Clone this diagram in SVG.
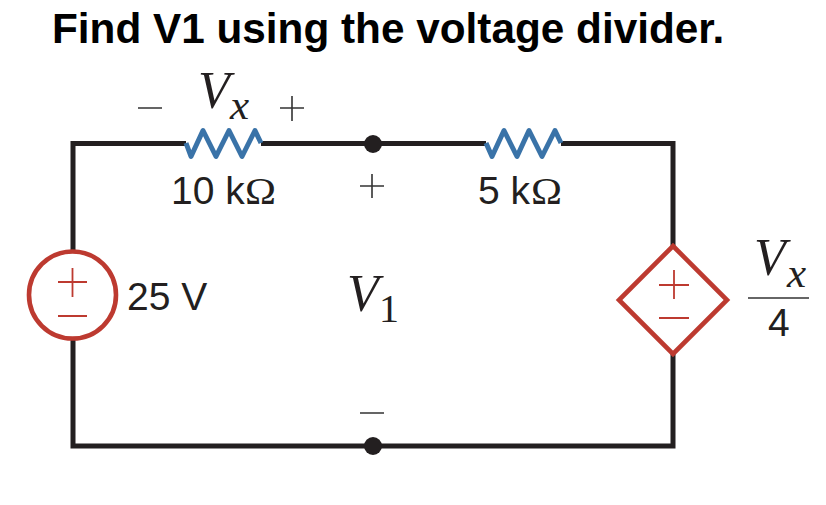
<svg xmlns="http://www.w3.org/2000/svg" width="826" height="505" viewBox="0 0 826 505">
<style>
.wire{fill:none;stroke:#231f20;stroke-width:5}
.res{fill:none;stroke:#3a73a8;stroke-width:5;stroke-linejoin:round}
.red{fill:#fff;stroke:#bd3a30;stroke-width:4.600}
.thin{fill:none;stroke:#333;stroke-width:1.600}
.redthin{fill:none;stroke:#bd3a30;stroke-width:1.800}
.sans{font-family:"Liberation Sans",Arial,sans-serif;font-size:39px;fill:#231f20}
.it{font-family:"Liberation Serif","Times New Roman",serif;font-style:italic;fill:#231f20}
.rom{font-family:"Liberation Serif","Times New Roman",serif;fill:#231f20}
.dot{fill:#231f20}
</style>
<rect width="826" height="505" fill="#fff"/>
<text x="52" y="43" font-family="'Liberation Sans',Arial,sans-serif" font-weight="bold" font-size="42.300" fill="#000">Find V1 using the voltage divider.</text>
<g id="connectors">
<path class="wire" d="M186 143.500H73V446H673V143.500H561M261 143.500H486"/>
</g>
<g id="r1">
<path class="res" d="M186 143L191 156.500L203 130.500L216 156.500L229 130.500L242 156.500L255 130.500L261 143"/>
<text class="sans" x="171" y="204">10 k</text>
<text class="rom" x="245" y="204" font-size="38" textLength="31" lengthAdjust="spacingAndGlyphs">Ω</text>
</g>
<g id="r2">
<path class="res" d="M486 143L492 156.500L504 130.500L517 156.500L529 130.500L542 156.500L555 130.500L561 143"/>
<text class="sans" x="478" y="204">5 k</text>
<text class="rom" x="531" y="204" font-size="38" textLength="31" lengthAdjust="spacingAndGlyphs">Ω</text>
</g>
<g id="n-top"><circle class="dot" cx="373" cy="144" r="9"/></g>
<g id="n-bottom"><circle class="dot" cx="373" cy="446" r="9"/></g>
<g id="vs">
<circle class="red" cx="72.500" cy="295" r="43.500"/>
<path class="redthin" d="M58 282H87M72.500 268V297M58 316H87"/>
<text class="sans" x="127" y="310">25 V</text>
</g>
<g id="vcvs">
<path class="red" d="M673 246L727 300L673 354L619 300Z"/>
<path class="redthin" d="M659 285H689M674 270V299M659 318H689"/>
<text class="it" x="754" y="275" font-size="52">V</text>
<text class="it" x="787" y="287" font-size="43">x</text>
<path class="thin" d="M748 298H809"/>
<text class="sans" x="768" y="336">4</text>
</g>
<g id="vx-label">
<text class="it" x="198" y="108" font-size="52">V</text>
<text class="it" x="230" y="119" font-size="43">x</text>
<path class="thin" d="M138 108H162M280 108H304M292 96V121"/>
</g>
<g id="v1-label">
<path class="thin" d="M360 186H384M372 174V198M360 413H384"/>
<text class="it" x="347" y="311" font-size="52">V</text>
<text class="rom" x="379" y="322" font-size="40">1</text>
</g>
</svg>
